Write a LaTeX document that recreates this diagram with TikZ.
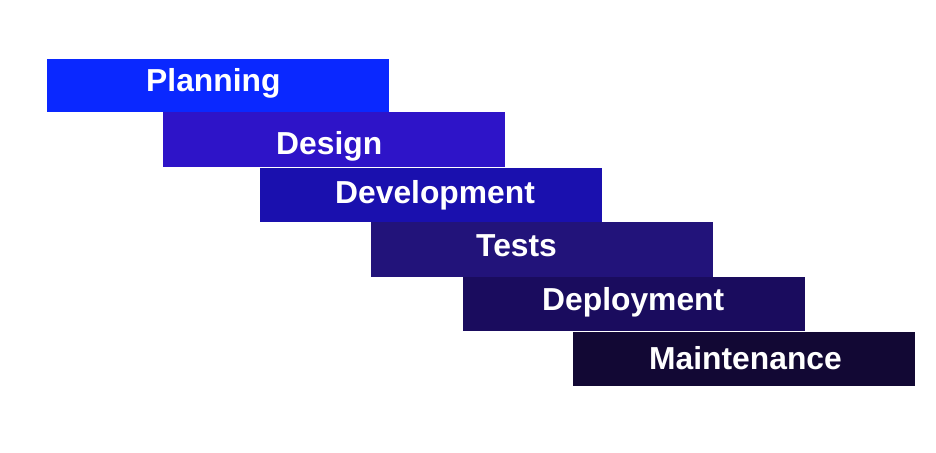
\documentclass[tikz,border=0pt]{standalone}
\usepackage{fontspec}
\setmainfont{Liberation Sans}
\definecolor{cA}{HTML}{0A28FF}
\definecolor{cB}{HTML}{2E14C8}
\definecolor{cC}{HTML}{1A10AE}
\definecolor{cD}{HTML}{22137A}
\definecolor{cE}{HTML}{1A0C5E}
\definecolor{cF}{HTML}{120834}
\begin{document}
\begin{tikzpicture}[x=1pt,y=-1pt,
  bar/.style={rectangle,draw=none,inner sep=0pt,minimum width=342pt},
  lbl/.style={anchor=base west,inner sep=0pt,text=white,font=\fontsize{31.8}{36}\selectfont\bfseries}]
\useasboundingbox (0,0) rectangle (936,452);
\node[bar,fill=cA,minimum height=53pt] (b1) at (218,85.5) {};
\node[bar,fill=cB,minimum height=55pt] (b2) at (334,139.5) {};
\node[bar,fill=cC,minimum height=54pt] (b3) at (431,195) {};
\node[bar,fill=cD,minimum height=55pt] (b4) at (541.5,249.5) {};
\node[bar,fill=cE,minimum height=54pt] (b5) at (634,304) {};
\node[bar,fill=cF,minimum height=54pt] (b6) at (744,359) {};
\node[lbl] (t1) at (146,91) {Planning};
\node[lbl] (t2) at (276,154) {Design};
\node[lbl] (t3) at (335,203) {Development};
\node[lbl] (t4) at (476,256) {Tests};
\node[lbl] (t5) at (542,310) {Deployment};
\node[lbl] (t6) at (649,369) {Maintenance};
\end{tikzpicture}
\end{document}
